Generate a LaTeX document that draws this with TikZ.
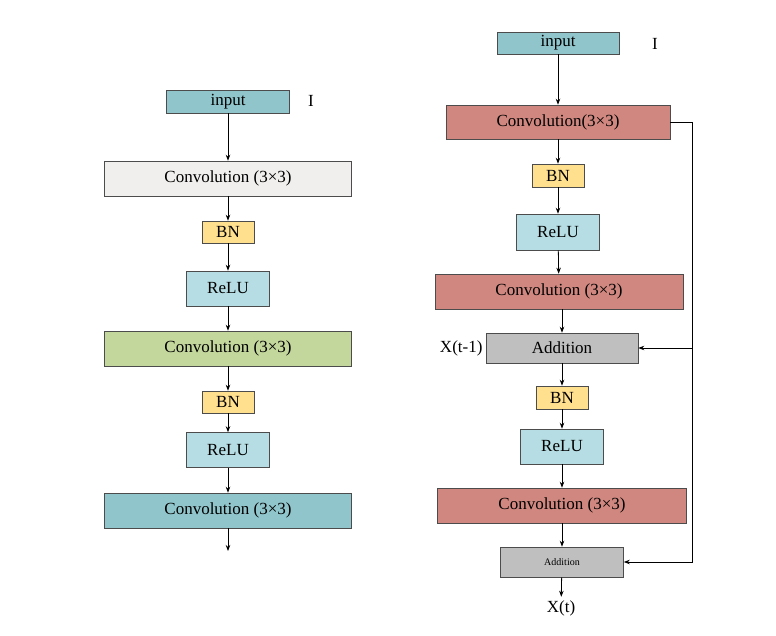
\documentclass[tikz,border=0pt]{standalone}
\usepackage{fontspec}
\setmainfont{Liberation Serif}
\usetikzlibrary{arrows.meta}
\definecolor{teal}{HTML}{8FC5CB}
\definecolor{gry}{HTML}{F0EFED}
\definecolor{bny}{HTML}{FFE08F}
\definecolor{rel}{HTML}{B5DDE3}
\definecolor{grn}{HTML}{C3D69B}
\definecolor{red}{HTML}{D0877F}
\definecolor{add}{HTML}{BFBFBF}
\tikzset{
 bx/.style={draw=black!70, line width=0.6pt, inner sep=0pt, font=\fontsize{17}{17}\selectfont},
 ar/.style={-{Stealth[length=6pt,width=4.5pt]}, line width=0.8pt},
 lbl/.style={font=\fontsize{17}{17}\selectfont}
}
\begin{document}
\begin{tikzpicture}[x=1pt,y=-1pt]
\useasboundingbox (0,0) rectangle (776,636);
\newcommand\bxat[5]{\node[bx,fill=#5,minimum width=#3-#2,minimum height=0] at ({(#2+#3)/2},0) {};}
% left column
\node[bx,fill=teal,minimum width=123,minimum height=23] (li) at (228,101.5) {input};
\node[lbl] (lI) at (311,101) {I};
\node[bx,fill=gry,minimum width=247,minimum height=35] (lc1) at (228,178.5) {Convolution (3×3)};
\node[bx,fill=bny,minimum width=52,minimum height=22] (lb1) at (228,232) {BN};
\node[bx,fill=rel,minimum width=83,minimum height=35] (lr1) at (228,288.5) {ReLU};
\node[bx,fill=grn,minimum width=247,minimum height=35] (lc2) at (228,348.5) {Convolution (3×3)};
\node[bx,fill=bny,minimum width=52,minimum height=22] (lb2) at (228,402) {BN};
\node[bx,fill=rel,minimum width=83,minimum height=35] (lr2) at (228,450) {ReLU};
\node[bx,fill=teal,minimum width=247,minimum height=35] (lc3) at (228,510.5) {Convolution (3×3)};
\coordinate (lend) at (228,551);
\draw[ar] (li) -- (lc1);
\draw[ar] (lc1) -- (lb1);
\draw[ar] (lb1) -- (lr1);
\draw[ar] (lr1) -- (lc2);
\draw[ar] (lc2) -- (lb2);
\draw[ar] (lb2) -- (lr2);
\draw[ar] (lr2) -- (lc3);
\draw[ar] (lc3) -- (lend);
% right column
\node[bx,fill=teal,minimum width=122,minimum height=22] (ri) at (558,43) {input};
\node[lbl] (rI) at (655,44) {I};
\node[bx,fill=red,minimum width=224,minimum height=34] (rc1) at (558,122) {Convolution(3×3)};
\node[bx,fill=bny,minimum width=52,minimum height=23] (rb1) at (558,175.5) {BN};
\node[bx,fill=rel,minimum width=83,minimum height=36] (rr1) at (558,232) {ReLU};
\node[bx,fill=red,minimum width=248,minimum height=35] (rc2) at (559,291.5) {Convolution (3×3)};
\node[bx,fill=add,minimum width=152,minimum height=30] (ra1) at (562,348) {Addition};
\node[lbl,anchor=east] (xt1) at (486,348) {X(t-1)};
\node[bx,fill=bny,minimum width=52,minimum height=23] (rb2) at (562,397.5) {BN};
\node[bx,fill=rel,minimum width=83,minimum height=35] (rr2) at (562,446.5) {ReLU};
\node[bx,fill=red,minimum width=249,minimum height=35] (rc3) at (562,505.5) {Convolution (3×3)};
\node[bx,fill=add,minimum width=123,minimum height=30,font=\fontsize{10}{10}\selectfont] (ra2) at (562,562) {Addition};
\node[lbl] (xt) at (561,608) {X(t)};
\draw[ar] (ri) -- (rc1);
\draw[ar] (rc1) -- (rb1);
\draw[ar] (rb1) -- (rr1);
\draw[ar] (rr1) -- (rc2);
\draw[ar] (rc2.south -| ra1) -- (ra1);
\draw[ar] (ra1) -- (rb2);
\draw[ar] (rb2) -- (rr2);
\draw[ar] (rr2) -- (rc3);
\draw[ar] (rc3) -- (ra2);
\draw[ar] (ra2) -- (xt);
\coordinate (sk) at (692,122);
\draw[ar] (rc1.east) -- (sk) |- (ra2.east);
\draw[ar] (692,348) -- (ra1.east);
\end{tikzpicture}
\end{document}
